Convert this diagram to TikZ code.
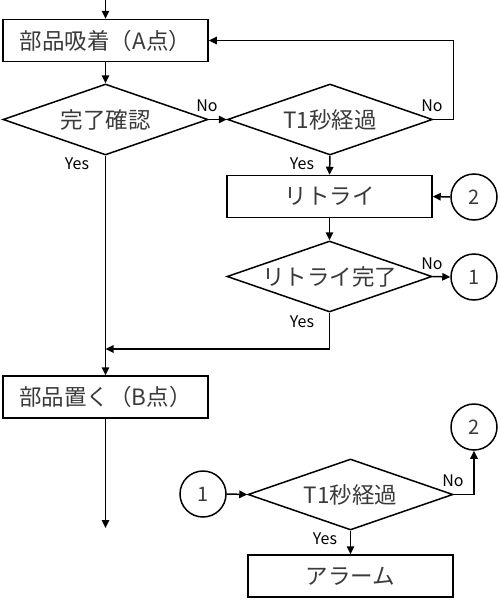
\documentclass[tikz,border=0pt]{standalone}
\usepackage{fontspec}
\setmainfont{Noto Sans CJK JP}
\usetikzlibrary{shapes.geometric,arrows.meta}
\definecolor{txt}{HTML}{3A3A3A}
\tikzset{
  box/.style={draw=black,line width=1.5pt,rectangle,minimum width=205pt,minimum height=42pt,inner sep=0pt,text=txt,font=\fontsize{22.5}{26}\selectfont},
  dia/.style={draw=black,line width=1.5pt,diamond,aspect=2.9,minimum width=205pt,minimum height=71pt,inner sep=0pt,text=txt,font=\fontsize{22.5}{26}\selectfont},
  conn/.style={draw=black,line width=1.5pt,circle,minimum size=46pt,inner sep=0pt,text=txt,font=\fontsize{20}{24}\selectfont},
  lab/.style={text=black,font=\fontsize{16}{19}\selectfont,inner sep=0pt},
  arr/.style={line width=1.5pt,-{Triangle[length=8pt,width=7.5pt]}}
}
\begin{document}
\begin{tikzpicture}[x=1pt,y=-1pt]
\useasboundingbox (0,0) rectangle (499,605);
% nodes
\coordinate (start) at (105.5,0);
\node[box] (A) at (105.5,40.5) {部品吸着（A点）};
\node[dia] (d1) at (105.5,119.5) {完了確認};
\node[dia] (d2) at (330,119.5) {T1秒経過};
\node[box] (R) at (329.5,196.5) {リトライ};
\node[conn] (c2a) at (474,197) {2};
\node[dia] (d3) at (329.5,276.5) {リトライ完了};
\node[conn] (c1a) at (474,277) {1};
\coordinate (m) at (105.5,349);
\coordinate (r) at (329.5,349);
\node[box] (B) at (105.5,397) {部品置く（B点）};
\coordinate (end) at (105.5,528);
\node[conn] (c1b) at (203,494) {1};
\node[dia] (d4) at (350.5,494.5) {T1秒経過};
\node[conn] (c2b) at (474,427) {2};
\node[box] (AL) at (350.5,576) {アラーム};
% labels
\node[lab] (l1) at (207,106) {No};
\node[lab] (l2) at (432,106) {No};
\node[lab] (l3) at (77,164) {Yes};
\node[lab] (l4) at (302,164) {Yes};
\node[lab] (l5) at (432,264) {No};
\node[lab] (l6) at (302,322) {Yes};
\node[lab] (l7) at (453,481) {No};
\node[lab] (l8) at (325,539) {Yes};
% connectors
\draw[arr] (start) -- (A.north);
\draw[arr] (A.south) -- (d1.north);
\draw[arr] (d1.east) -- (d2.west);
\draw[arr] (d2.east) -- ++(20,0) |- (A.east);
\draw[arr] (d2.south) -- (R.north);
\draw[arr] (c2a.west) -- (R.east);
\draw[arr] (R.south) -- (d3.north);
\draw[arr] (d3.east) -- (c1a.west);
\draw[arr] (d3.south) -- (r) -- (m);
\draw[arr] (d1.south) -- (B.north);
\draw[arr] (B.south) -- (end);
\draw[arr] (c1b.east) -- (d4.west);
\draw[arr] (d4.east) -| (c2b.south);
\draw[arr] (d4.south) -- (AL.north);
\end{tikzpicture}
\end{document}
